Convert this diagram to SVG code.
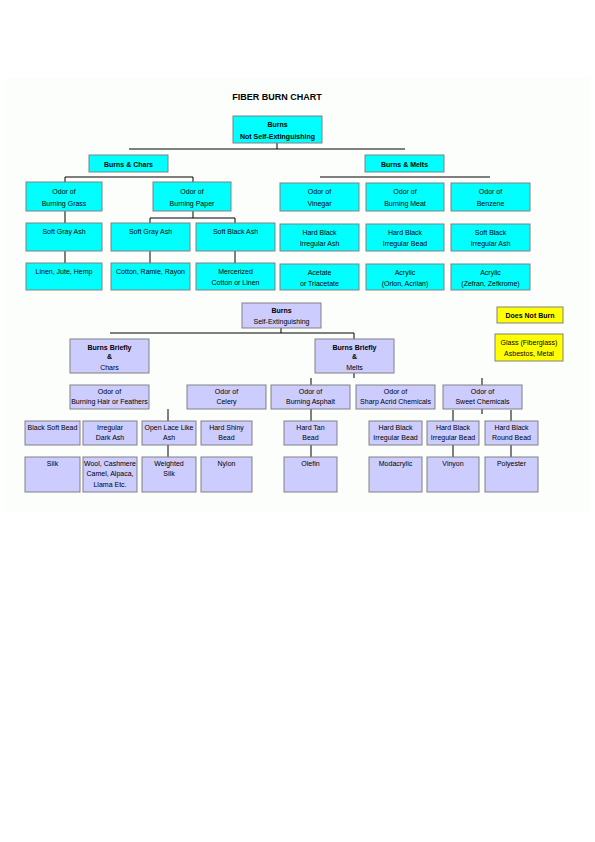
<svg xmlns="http://www.w3.org/2000/svg" width="595" height="842" viewBox="0 0 595 842">
<style>
.c{fill:#00ffff;stroke:#808080;stroke-width:1}
.l{fill:#ccccff;stroke:#808080;stroke-width:1}
.y{fill:#ffff00;stroke:#808080;stroke-width:1}
text{font-family:"Liberation Sans",Arial,sans-serif;font-size:7px;fill:#000;text-anchor:middle}
.b{font-weight:bold}
.t{font-size:9px;font-weight:bold}
#connectors line{stroke:#000;stroke-width:1}
</style>
<rect x="0" y="0" width="595" height="842" fill="#ffffff"/>
<rect x="5" y="78" width="585" height="434" fill="#fcfefc"/>
<text class="t" x="277" y="100">FIBER BURN CHART</text>
<g id="connectors">
<line x1="277" y1="143" x2="277" y2="149"/>
<line x1="129" y1="149" x2="405" y2="149"/>
<line x1="65" y1="177" x2="193" y2="177"/>
<line x1="65" y1="177" x2="65" y2="182"/>
<line x1="193" y1="177" x2="193" y2="182"/>
<line x1="320" y1="177" x2="490" y2="177"/>
<line x1="65" y1="211" x2="65" y2="223"/>
<line x1="193" y1="211" x2="193" y2="218"/>
<line x1="150" y1="218" x2="235" y2="218"/>
<line x1="150" y1="218" x2="150" y2="223"/>
<line x1="235" y1="218" x2="235" y2="223"/>
<line x1="65" y1="251" x2="65" y2="263"/>
<line x1="150" y1="251" x2="150" y2="263"/>
<line x1="235" y1="251" x2="235" y2="263"/>
<line x1="281" y1="328" x2="281" y2="333"/>
<line x1="110" y1="333" x2="354" y2="333"/>
<line x1="354" y1="333" x2="354" y2="339"/>
<line x1="354" y1="373" x2="354" y2="378"/>
<line x1="311" y1="378" x2="311" y2="385"/>
<line x1="482" y1="378" x2="482" y2="385"/>
<line x1="168" y1="409" x2="168" y2="421"/>
<line x1="168" y1="445" x2="168" y2="457"/>
<line x1="311" y1="409" x2="311" y2="421"/>
<line x1="311" y1="445" x2="311" y2="457"/>
<line x1="482" y1="409" x2="482" y2="414"/>
<line x1="453" y1="410" x2="453" y2="421"/>
<line x1="453" y1="445" x2="453" y2="457"/>
<line x1="511" y1="410" x2="511" y2="421"/>
<line x1="511" y1="445" x2="511" y2="457"/>
</g>
<g id="n-top"><rect class="c" x="233" y="116" width="89" height="27"/><text class="b" x="277.5" y="126.5">Burns</text><text class="b" x="277.5" y="138.5">Not Self-Extinguishing</text></g>
<g id="n-chars"><rect class="c" x="89" y="155" width="79" height="17"/><text class="b" x="128.5" y="166.5">Burns &amp; Chars</text></g>
<g id="n-melts"><rect class="c" x="365" y="155" width="79" height="17"/><text class="b" x="404.5" y="166.5">Burns &amp; Melts</text></g>
<g id="n-grass"><rect class="c" x="26" y="182" width="76" height="29"/><text x="64" y="194">Odor of</text><text x="64" y="206">Burning Grass</text></g>
<g id="n-paper"><rect class="c" x="153" y="182" width="78" height="29"/><text x="192" y="194">Odor of</text><text x="192" y="206">Burning Paper</text></g>
<g id="n-vinegar"><rect class="c" x="280" y="183" width="79" height="28"/><text x="319.5" y="194">Odor of</text><text x="319.5" y="206">Vinegar</text></g>
<g id="n-meat"><rect class="c" x="366" y="183" width="78" height="28"/><text x="405" y="194">Odor of</text><text x="405" y="206">Burning Meat</text></g>
<g id="n-benzene"><rect class="c" x="451" y="183" width="79" height="28"/><text x="490.5" y="194">Odor of</text><text x="490.5" y="206">Benzene</text></g>
<g id="n-sga1"><rect class="c" x="26" y="223" width="76" height="28"/><text x="64" y="234">Soft Gray Ash</text></g>
<g id="n-sga2"><rect class="c" x="111" y="223" width="79" height="28"/><text x="150.5" y="234">Soft Gray Ash</text></g>
<g id="n-sba"><rect class="c" x="196" y="223" width="79" height="28"/><text x="235.5" y="234">Soft Black Ash</text></g>
<g id="n-hbia"><rect class="c" x="280" y="224" width="79" height="27"/><text x="319.5" y="235">Hard Black</text><text x="319.5" y="246">Irregular Ash</text></g>
<g id="n-hbib"><rect class="c" x="366" y="224" width="78" height="27"/><text x="405" y="235">Hard Black</text><text x="405" y="246">Irregular Bead</text></g>
<g id="n-sbia"><rect class="c" x="451" y="224" width="79" height="27"/><text x="490.5" y="235">Soft Black</text><text x="490.5" y="246">Irregular Ash</text></g>
<g id="n-linen"><rect class="c" x="26" y="263" width="76" height="27"/><text x="64" y="274">Linen, Jute, Hemp</text></g>
<g id="n-cotton"><rect class="c" x="111" y="263" width="79" height="27"/><text x="150.5" y="274">Cotton, Ramie, Rayon</text></g>
<g id="n-merc"><rect class="c" x="196" y="263" width="79" height="27"/><text x="235.5" y="274">Mercerized</text><text x="235.5" y="285">Cotton or Linen</text></g>
<g id="n-acetate"><rect class="c" x="280" y="264" width="79" height="26"/><text x="319.5" y="275">Acetate</text><text x="319.5" y="286">or Triacetate</text></g>
<g id="n-acr1"><rect class="c" x="366" y="264" width="78" height="26"/><text x="405" y="275">Acrylic</text><text x="405" y="286">(Orlon, Acrilan)</text></g>
<g id="n-acr2"><rect class="c" x="451" y="264" width="79" height="26"/><text x="490.5" y="275">Acrylic</text><text x="490.5" y="286">(Zefran, Zefkrome)</text></g>
<g id="n-self"><rect class="l" x="242" y="303" width="79" height="25"/><text class="b" x="281.5" y="313">Burns</text><text x="281.5" y="324">Self-Extinguishing</text></g>
<g id="n-dnb"><rect class="y" x="497" y="307" width="66" height="16"/><text class="b" x="530" y="318">Does Not Burn</text></g>
<g id="n-glass"><rect class="y" x="495" y="334" width="68" height="27"/><text x="529" y="345">Glass (Fiberglass)</text><text x="529" y="356">Asbestos, Metal</text></g>
<g id="n-bbc"><rect class="l" x="70" y="339" width="79" height="34"/><text class="b" x="109.5" y="350">Burns Briefly</text><text class="b" x="109.5" y="359">&amp;</text><text x="109.5" y="370">Chars</text></g>
<g id="n-bbm"><rect class="l" x="315" y="339" width="79" height="34"/><text class="b" x="354.5" y="350">Burns Briefly</text><text class="b" x="354.5" y="359">&amp;</text><text x="354.5" y="370">Melts</text></g>
<g id="n-hair"><rect class="l" x="70" y="385" width="79" height="24"/><text x="109.5" y="394">Odor of</text><text x="109.5" y="404">Burning Hair or Feathers</text></g>
<g id="n-celery"><rect class="l" x="187" y="385" width="79" height="24"/><text x="226.5" y="394">Odor of</text><text x="226.5" y="404">Celery</text></g>
<g id="n-asphalt"><rect class="l" x="271" y="385" width="79" height="24"/><text x="310.5" y="394">Odor of</text><text x="310.5" y="404">Burning Asphalt</text></g>
<g id="n-acrid"><rect class="l" x="356" y="385" width="79" height="24"/><text x="395.5" y="394">Odor of</text><text x="395.5" y="404">Sharp Acrid Chemicals</text></g>
<g id="n-sweet"><rect class="l" x="443" y="385" width="79" height="24"/><text x="482.5" y="394">Odor of</text><text x="482.5" y="404">Sweet Chemicals</text></g>
<g id="n-bsb"><rect class="l" x="25" y="421" width="55" height="24"/><text x="52.5" y="430">Black Soft Bead</text></g>
<g id="n-ida"><rect class="l" x="83" y="421" width="54" height="24"/><text x="110" y="430">Irregular</text><text x="110" y="440">Dark Ash</text></g>
<g id="n-olla"><rect class="l" x="142" y="421" width="54" height="24"/><text x="169" y="430">Open Lace Like</text><text x="169" y="440">Ash</text></g>
<g id="n-hsb"><rect class="l" x="201" y="421" width="51" height="24"/><text x="226.5" y="430">Hard Shiny</text><text x="226.5" y="440">Bead</text></g>
<g id="n-htb"><rect class="l" x="284" y="421" width="53" height="24"/><text x="310.5" y="430">Hard Tan</text><text x="310.5" y="440">Bead</text></g>
<g id="n-hbib2"><rect class="l" x="369" y="421" width="53" height="24"/><text x="395.5" y="430">Hard Black</text><text x="395.5" y="440">Irregular Bead</text></g>
<g id="n-hbib3"><rect class="l" x="427" y="421" width="52" height="24"/><text x="453" y="430">Hard Black</text><text x="453" y="440">Irregular Bead</text></g>
<g id="n-hbrb"><rect class="l" x="485" y="421" width="53" height="24"/><text x="511.5" y="430">Hard Black</text><text x="511.5" y="440">Round Bead</text></g>
<g id="n-silk"><rect class="l" x="25" y="457" width="55" height="35"/><text x="52.5" y="466">Silk</text></g>
<g id="n-wool"><rect class="l" x="83" y="457" width="54" height="35"/><text x="110" y="466">Wool, Cashmere</text><text x="110" y="476">Camel, Alpaca,</text><text x="110" y="487">Llama Etc.</text></g>
<g id="n-wsilk"><rect class="l" x="142" y="457" width="54" height="35"/><text x="169" y="466">Weighted</text><text x="169" y="476">Silk</text></g>
<g id="n-nylon"><rect class="l" x="201" y="457" width="51" height="35"/><text x="226.5" y="466">Nylon</text></g>
<g id="n-olefin"><rect class="l" x="284" y="457" width="53" height="35"/><text x="310.5" y="466">Olefin</text></g>
<g id="n-modacrylic"><rect class="l" x="369" y="457" width="53" height="35"/><text x="395.5" y="466">Modacrylic</text></g>
<g id="n-vinyon"><rect class="l" x="427" y="457" width="52" height="35"/><text x="453" y="466">Vinyon</text></g>
<g id="n-polyester"><rect class="l" x="485" y="457" width="53" height="35"/><text x="511.5" y="466">Polyester</text></g>
</svg>
